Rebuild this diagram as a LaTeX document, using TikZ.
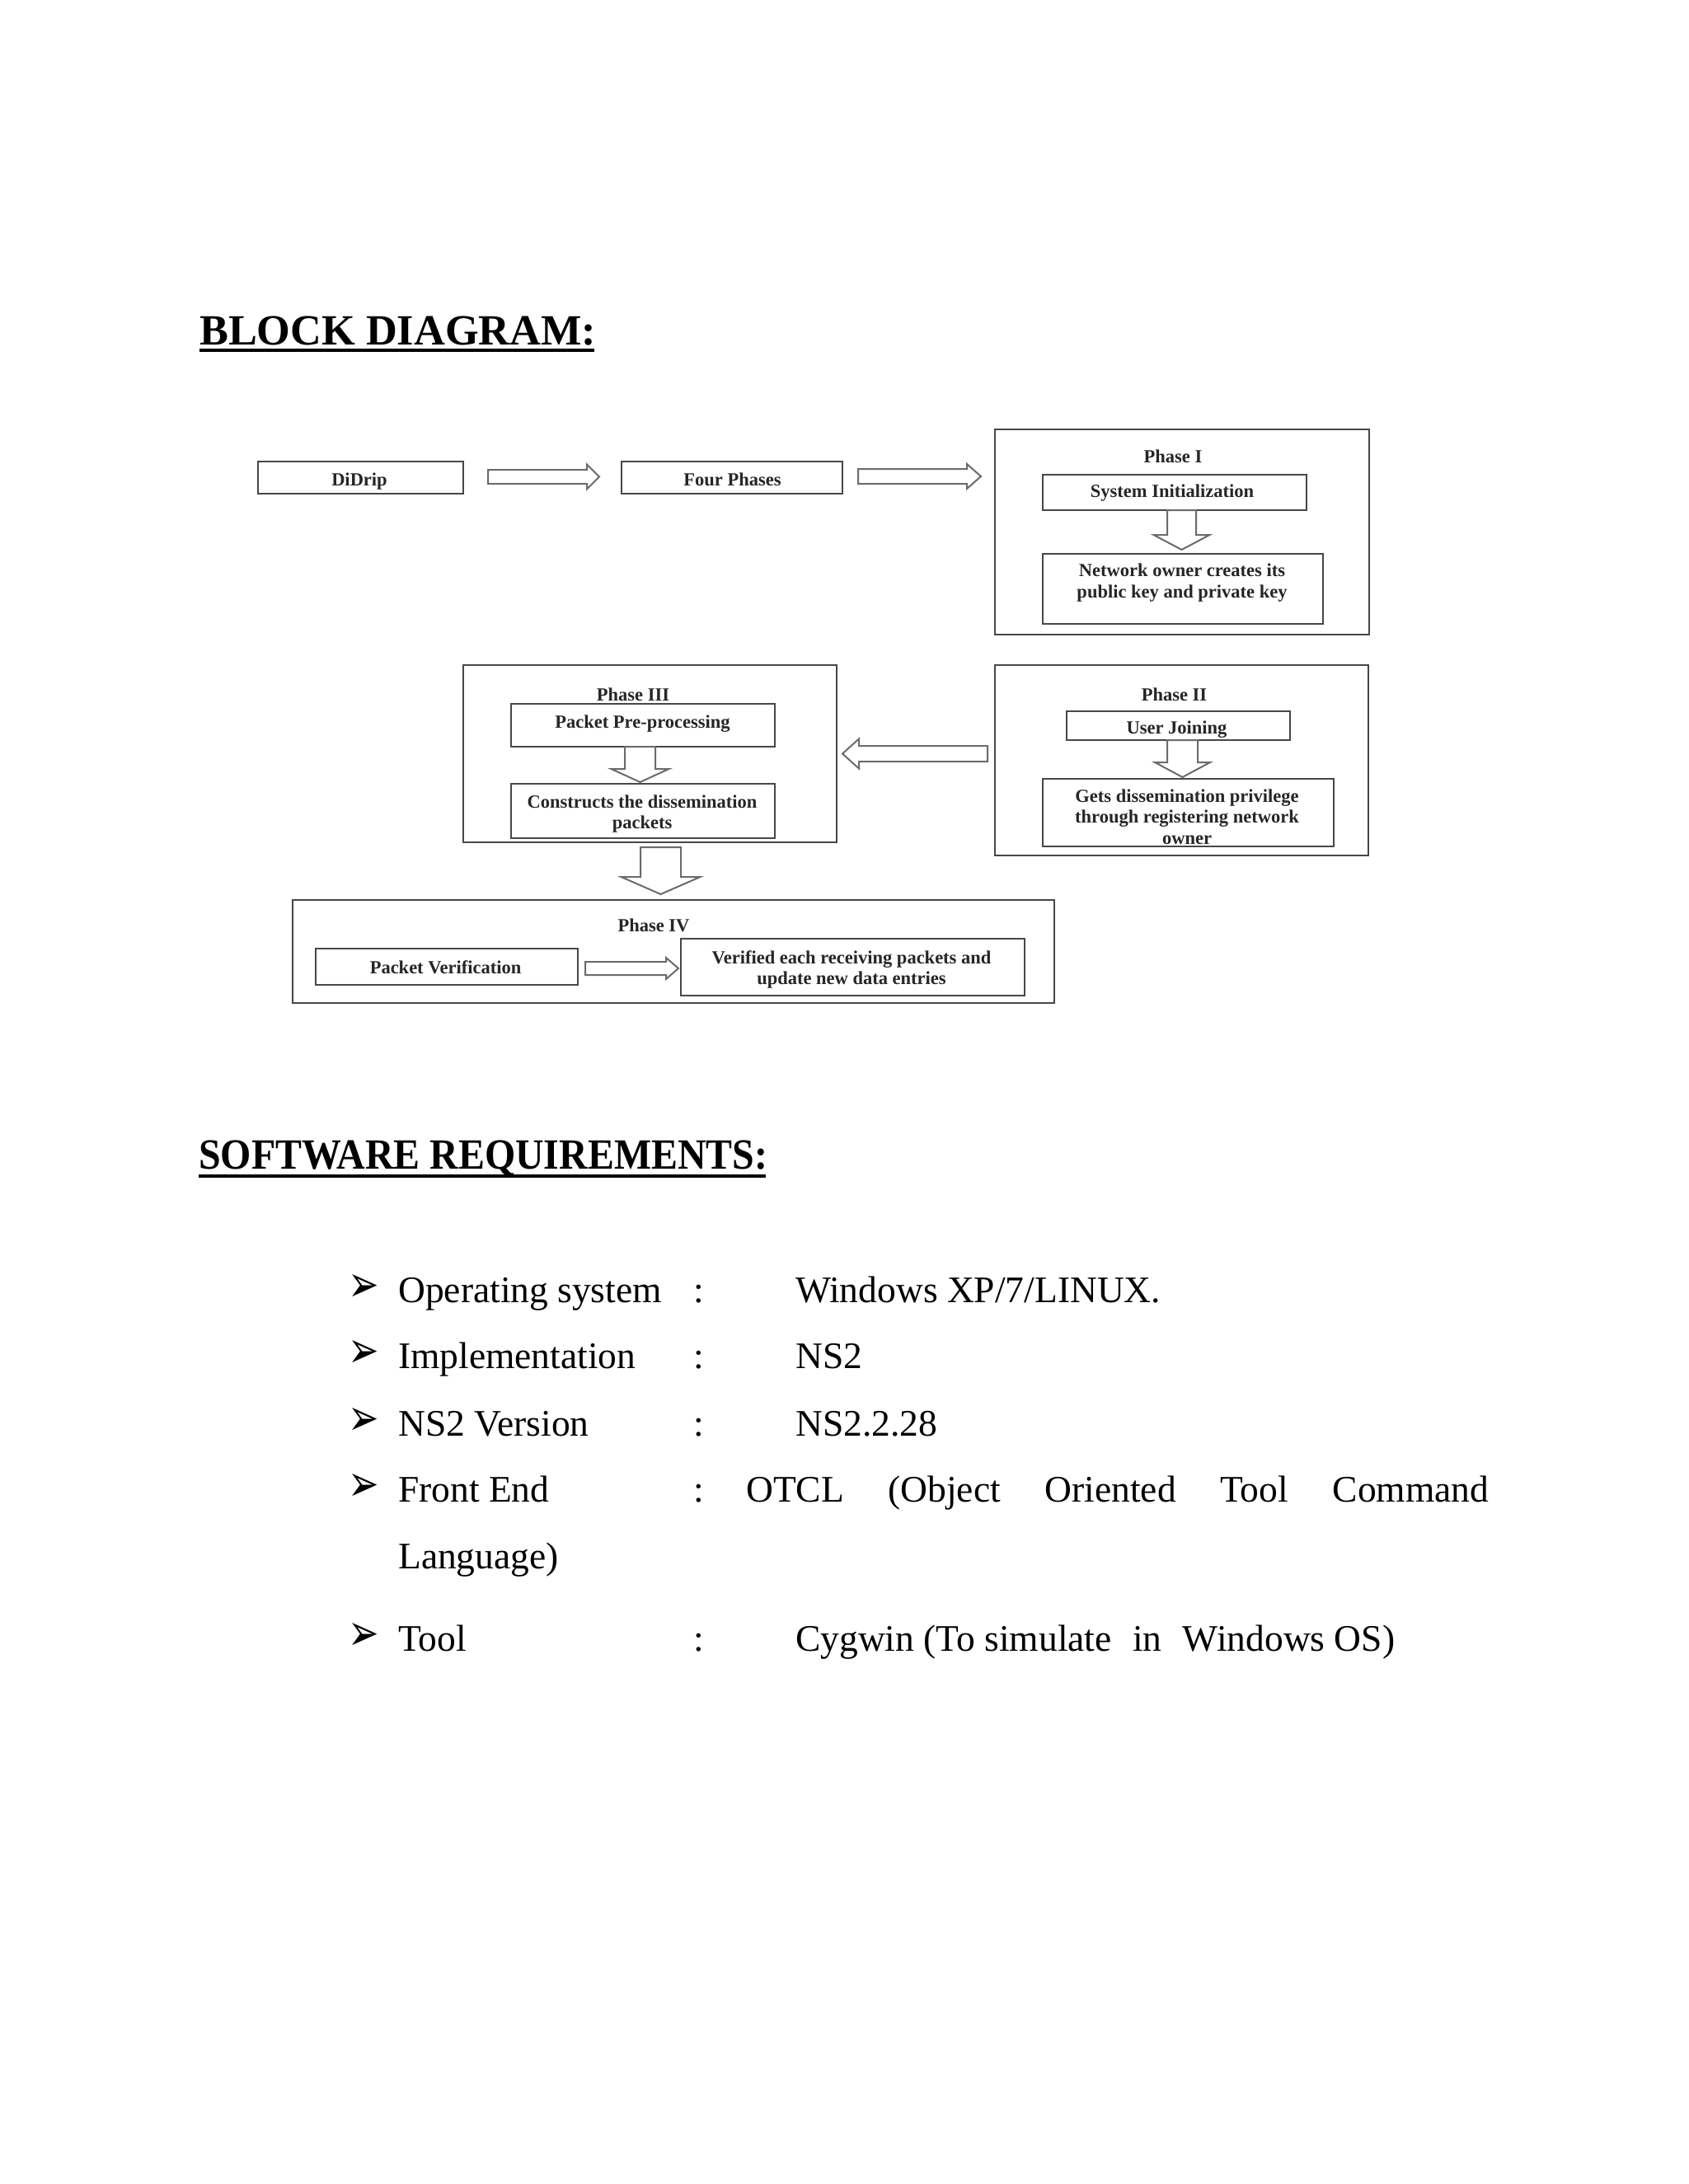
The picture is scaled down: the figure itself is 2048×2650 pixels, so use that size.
\documentclass[tikz,border=0pt]{standalone}
\usepackage{fontspec}
\setmainfont{Liberation Serif}
\newfontfamily\dejavufont{DejaVu Sans}
\usetikzlibrary{calc}

\tikzset{
  frame/.style={draw=black!72, line width=2.4pt, rectangle, inner sep=0pt},
  inbox/.style={draw=black!72, line width=2.2pt, rectangle, inner sep=0pt},
  dtext/.style={inner sep=0pt, anchor=base, font=\fontsize{22.5}{26}\selectfont\bfseries, text=black!85},
  blk/.style={draw=black!58, line width=2pt, fill=white, line join=miter},
  listtext/.style={inner sep=0pt, anchor=base west, font=\fontsize{45.5}{50}\selectfont},
  bul/.style={inner sep=0pt, anchor=center, font=\dejavufont\fontsize{40}{44}\selectfont},
  heading/.style={inner sep=0pt, anchor=base west, font=\fontsize{52.3}{56}\selectfont\bfseries},
  uline/.style={line width=4.5pt, black},
}

% #1 start, #2 end, #3 shaft half width, #4 head half width, #5 head length
\newcommand\blockarrow[5]{%
  \coordinate (ba-h) at ($(#2)!#5!(#1)$);
  \draw[blk] ($(#1)!#3!90:(#2)$) -- ($(ba-h)!#3!90:(#2)$) -- ($(ba-h)!#4!90:(#2)$)
    -- (#2) -- ($(ba-h)!#4!-90:(#2)$) -- ($(ba-h)!#3!-90:(#2)$)
    -- ($(#1)!#3!-90:(#2)$) -- cycle;
}
\newcommand\bulletmark{\scalebox{1.12}[1.55]{➢}}

\begin{document}
\begin{tikzpicture}[x=1pt, y=-1pt]
\useasboundingbox[fill=white] (0,0) rectangle (2048,2650);

% ---------- heading 1 ----------
\node[heading] (h1) at (242,418) {BLOCK DIAGRAM:};
\coordinate (h1a) at (242,425);
\coordinate (h1b) at (721,425);
\draw[uline] (h1a) -- (h1b);

% ---------- top row ----------
\node[inbox, minimum width=249pt, minimum height=39pt] (didrip) at (437.5,579.5) {};
\node[dtext] (tdidrip) at (436,589) {DiDrip};
\node[inbox, minimum width=268pt, minimum height=39pt] (four) at (888,579.5) {};
\node[dtext] (tfour) at (888.5,589) {Four Phases};

\coordinate (a1s) at (592,578.5); \coordinate (a1e) at (727,578.5);
\blockarrow{a1s}{a1e}{8.5pt}{15pt}{15pt}
\coordinate (a2s) at (1041,578); \coordinate (a2e) at (1190,578);
\blockarrow{a2s}{a2e}{9pt}{15pt}{17pt}

% ---------- Phase I ----------
\node[frame, minimum width=454pt, minimum height=249pt] (ph1) at (1434,645.5) {};
\node[dtext] (tph1) at (1423,561) {Phase I};
\node[inbox, minimum width=320pt, minimum height=43pt] (sysinit) at (1425,597.5) {};
\node[dtext] (tsysinit) at (1422,603) {System Initialization};
\node[inbox, minimum width=340pt, minimum height=85pt] (netown) at (1435,714.5) {};
\node[dtext] (tnet1) at (1434,699) {Network owner creates its};
\node[dtext] (tnet2) at (1434,725) {public key and private key};
\coordinate (a3s) at (1433.5,619); \coordinate (a3e) at (1433.5,667);
\blockarrow{a3s}{a3e}{17.5pt}{34pt}{18pt}

% ---------- Phase II ----------
\node[frame, minimum width=453pt, minimum height=231pt] (ph2) at (1433.5,922.5) {};
\node[dtext] (tph2) at (1424.5,850) {Phase II};
\node[inbox, minimum width=271pt, minimum height=35pt] (userj) at (1429.5,880.5) {};
\node[dtext] (tuserj) at (1427.5,890) {User Joining};
\node[inbox, minimum width=353pt, minimum height=82pt] (gets) at (1441.5,986) {};
\node[dtext] (tgets1) at (1440,973) {Gets dissemination privilege};
\node[dtext] (tgets2) at (1440,998.5) {through registering network};
\node[dtext] (tgets3) at (1440,1024) {owner};
\coordinate (a6s) at (1434.5,898); \coordinate (a6e) at (1434.5,943);
\blockarrow{a6s}{a6e}{18.5pt}{33.5pt}{18pt}

% ---------- Phase III ----------
\node[frame, minimum width=453pt, minimum height=215pt] (ph3) at (788.5,914.5) {};
\node[dtext] (tph3) at (768,850) {Phase III};
\node[inbox, minimum width=320pt, minimum height=52pt] (prepro) at (780,880) {};
\node[dtext] (tprepro) at (779.5,883) {Packet Pre-processing};
\node[inbox, minimum width=320pt, minimum height=66pt] (constr) at (780,984) {};
\node[dtext] (tcon1) at (779,980) {Constructs the dissemination};
\node[dtext] (tcon2) at (779,1005) {packets};
\coordinate (a5s) at (776.5,906); \coordinate (a5e) at (776.5,949);
\blockarrow{a5s}{a5e}{18.5pt}{35pt}{16pt}

% Phase II -> Phase III
\coordinate (a4s) at (1198,914.5); \coordinate (a4e) at (1022,914.5);
\blockarrow{a4s}{a4e}{9.5pt}{18pt}{20pt}

% Phase III -> Phase IV
\coordinate (a7s) at (801.5,1028); \coordinate (a7e) at (801.5,1085);
\blockarrow{a7s}{a7e}{24.5pt}{48pt}{21pt}

% ---------- Phase IV ----------
\node[frame, minimum width=924pt, minimum height=125pt] (ph4) at (817,1154.5) {};
\node[dtext] (tph4) at (793,1130) {Phase IV};
\node[inbox, minimum width=318pt, minimum height=44pt] (pverif) at (542,1173) {};
\node[dtext] (tpverif) at (540.5,1181) {Packet Verification};
\node[inbox, minimum width=417pt, minimum height=69pt] (verified) at (1034.5,1173.5) {};
\node[dtext] (tver1) at (1033,1169) {Verified each receiving packets and};
\node[dtext] (tver2) at (1033,1194) {update new data entries};
\coordinate (a8s) at (710,1175); \coordinate (a8e) at (823,1175);
\blockarrow{a8s}{a8e}{8pt}{13pt}{15pt}

% ---------- heading 2 ----------
\node[heading] (h2) at (241,1418) {\scalebox{0.915}[1]{SOFTWARE REQUIREMENTS:}};
\coordinate (h2a) at (241,1427);
\coordinate (h2b) at (929,1427);
\draw[uline] (h2a) -- (h2b);

% ---------- list ----------
\node[bul] (b1) at (441,1562.5) {\bulletmark};
\node[listtext] (k1) at (483,1580) {Operating system};
\node[listtext] (c1) at (841,1580) {:};
\node[listtext] (v1) at (965,1580) {Windows XP/7/LINUX.};

\node[bul] (b2) at (441,1642.5) {\bulletmark};
\node[listtext] (k2) at (483,1660) {Implementation};
\node[listtext] (c2) at (841,1660) {:};
\node[listtext] (v2) at (965,1660) {NS2};

\node[bul] (b3) at (441,1724.5) {\bulletmark};
\node[listtext] (k3) at (483,1742) {NS2 Version};
\node[listtext] (c3) at (841,1742) {:};
\node[listtext] (v3) at (965,1742) {NS2.2.28};

\node[bul] (b4) at (441,1804.5) {\bulletmark};
\node[listtext] (k4) at (483,1822) {Front End};
\node[listtext] (c4) at (841,1822) {:};
\node[listtext] (v4) at (905,1822) {\makebox[901pt][s]{OTCL\hfill(Object\hfill Oriented\hfill Tool\hfill Command}};
\node[listtext] (v4b) at (483,1903) {Language)};

\node[bul] (b5) at (441,1985.5) {\bulletmark};
\node[listtext] (k5) at (483,2003) {Tool};
\node[listtext] (c5) at (841,2003) {:};
\node[listtext] (v5) at (965,2003) {\makebox[727pt][s]{Cygwin (To simulate\hfill in\hfill Windows OS)}};

\end{tikzpicture}
\end{document}
